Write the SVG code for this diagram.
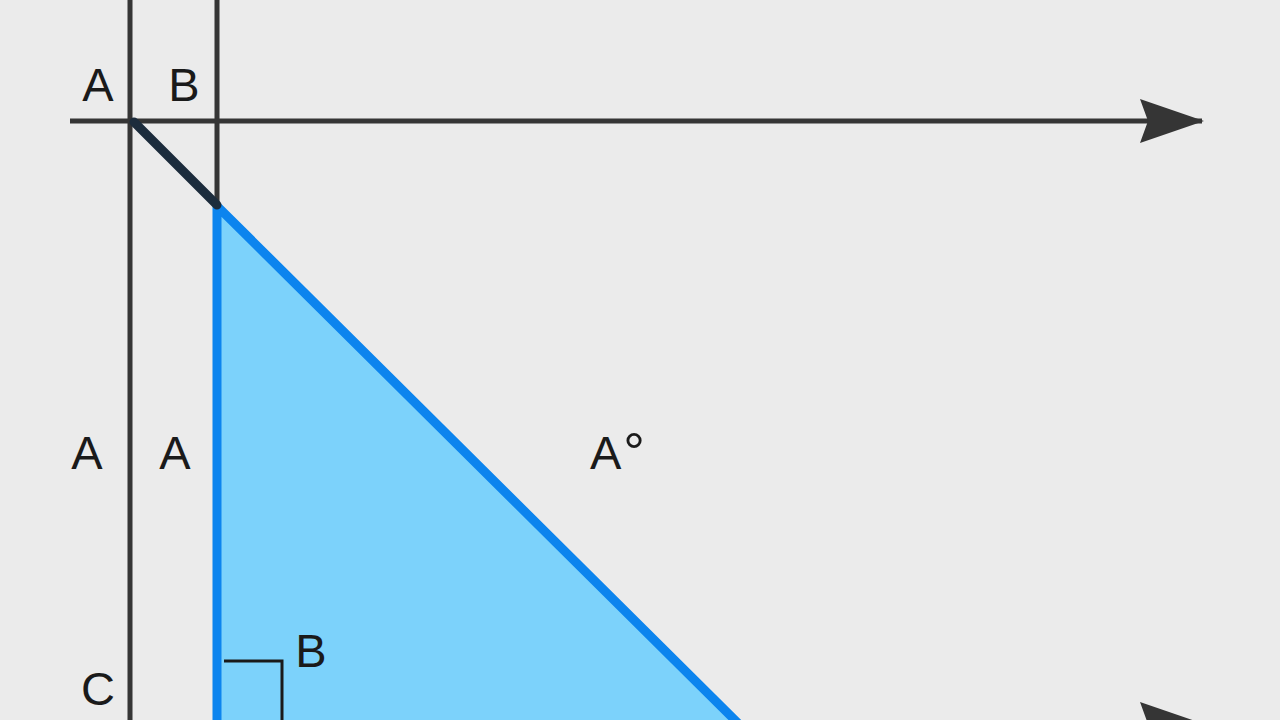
<svg xmlns="http://www.w3.org/2000/svg" width="1280" height="720" viewBox="0 0 1280 720">
<defs>
<style>
.ax{stroke:#353535;stroke-width:5;fill:none}
.lbl{font-family:"Liberation Sans",Arial,sans-serif;font-size:47px;fill:#1a1a1a;text-anchor:middle}
</style>
<marker id="ah" markerUnits="userSpaceOnUse" markerWidth="64" markerHeight="44" refX="62" refY="22" orient="auto" viewBox="0 0 64 44">
<path d="M0,0 L64,22 L0,44 L8,22 Z" fill="#353535"/>
</marker>
</defs>
<rect width="1280" height="720" fill="#ebebeb"/>
<g id="triangle">
<polygon points="217,206 217,745 760,745" fill="#7cd2fb" stroke="#0c84ee" stroke-width="9" stroke-linejoin="miter"/>
<polyline points="224,661 282,661 282,722" fill="none" stroke="#1a1a1a" stroke-width="3"/>
</g>
<g id="connectors">
<line class="ax" x1="130" y1="0" x2="130" y2="720"/>
<line class="ax" x1="217" y1="0" x2="217" y2="204"/>
<line class="ax" x1="70" y1="121" x2="1202" y2="121" marker-end="url(#ah)"/>
<line x1="134" y1="122" x2="217" y2="205" stroke="#1c2c3c" stroke-width="9" stroke-linecap="round"/>
<line class="ax" x1="900" y1="724" x2="1202" y2="724" marker-end="url(#ah)"/>
</g>
<g id="labels">
<text class="lbl" x="98" y="101">A</text>
<text class="lbl" x="184" y="101">B</text>
<text class="lbl" x="87" y="469">A</text>
<text class="lbl" x="175" y="469">A</text>
<text class="lbl" x="590" y="469" style="text-anchor:start">A<tspan dx="2" dy="2" font-size="54">°</tspan></text>
<text class="lbl" x="311" y="667">B</text>
<text class="lbl" x="98" y="705">C</text>
</g>
</svg>
